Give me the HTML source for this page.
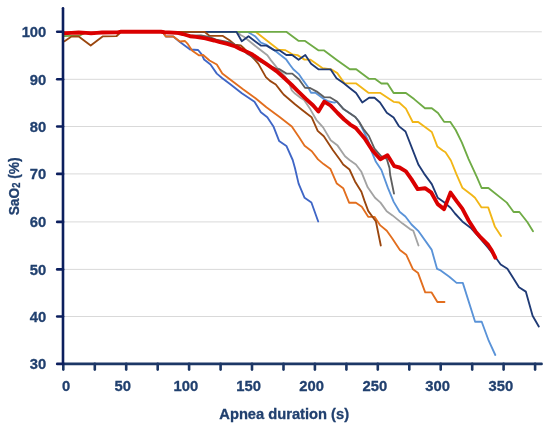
<!DOCTYPE html>
<html><head><meta charset="utf-8"><style>
html,body{margin:0;padding:0;background:#fff;}
body{width:550px;height:428px;overflow:hidden;position:relative;}
svg{position:absolute;left:0;top:0;}
.t{font-family:"Liberation Sans",Arial,sans-serif;font-weight:bold;fill:#21406F;stroke:#21406F;stroke-width:0.3px;}
</style></head><body>
<svg width="550" height="428" viewBox="0 0 550 428">
<rect width="550" height="428" fill="#fff"/>

<line x1="64" y1="31.8" x2="541.8" y2="31.8" stroke="#d9d9d9" stroke-width="1"/>
<line x1="64" y1="79.3" x2="541.8" y2="79.3" stroke="#d9d9d9" stroke-width="1"/>
<line x1="64" y1="126.5" x2="541.8" y2="126.5" stroke="#d9d9d9" stroke-width="1"/>
<line x1="64" y1="173.9" x2="541.8" y2="173.9" stroke="#d9d9d9" stroke-width="1"/>
<line x1="64" y1="221.9" x2="541.8" y2="221.9" stroke="#d9d9d9" stroke-width="1"/>
<line x1="64" y1="269.4" x2="541.8" y2="269.4" stroke="#d9d9d9" stroke-width="1"/>
<line x1="64" y1="316.5" x2="541.8" y2="316.5" stroke="#d9d9d9" stroke-width="1"/>
<path d="M64.0 33.0 L100.0 32.8 L121.0 31.8 L161.0 31.8 L163.3 33.0 L165.8 36.5 L173.3 36.5 L179.9 42.0 L190.1 49.5 L198.1 50.0 L201.7 54.4 L204.1 59.5 L210.5 64.5 L216.8 73.6 L222.3 78.2 L230.0 84.1 L241.8 93.2 L254.5 101.8 L260.9 112.3 L267.3 117.3 L273.6 126.8 L279.1 140.9 L286.4 145.9 L292.7 160.0 L295.0 168.2 L298.6 183.6 L304.6 197.8 L311.4 202.5 L318.2 221.5" fill="none" stroke="#3F66C6" stroke-width="1.85" stroke-linejoin="round" stroke-linecap="round"/>
<path d="M64.0 33.0 L100.0 32.8 L121.0 31.8 L161.0 31.8 L163.3 33.0 L165.8 36.5 L173.3 36.5 L179.9 41.5 L185.0 41.0 L187.9 44.2 L192.3 50.7 L198.8 55.3 L203.2 55.0 L209.5 60.5 L216.8 64.5 L222.3 73.6 L229.5 79.1 L242.7 89.1 L255.5 98.2 L266.4 107.3 L279.6 117.0 L291.8 126.4 L299.1 137.3 L304.6 145.8 L311.8 151.2 L318.0 159.4 L323.6 164.1 L330.5 169.1 L336.8 183.6 L343.2 188.2 L349.1 202.7 L355.9 202.7 L361.8 206.8 L368.2 216.8 L374.5 216.8 L380.3 225.4 L386.8 230.8 L392.3 238.5 L399.9 249.9 L406.2 254.7 L413.0 269.3 L418.1 273.1 L425.2 292.4 L431.6 292.4 L437.4 302.0 L444.5 302.0" fill="none" stroke="#E26E1E" stroke-width="1.85" stroke-linejoin="round" stroke-linecap="round"/>
<path d="M64.0 33.0 L100.0 32.8 L121.0 31.8 L237.0 31.8 L240.6 35.0 L243.9 36.8 L257.9 48.0 L267.4 55.3 L271.0 60.4 L276.5 67.1 L284.5 75.8 L288.9 82.4 L291.8 90.4 L295.0 93.6 L300.5 97.7 L304.1 100.0 L310.2 109.1 L316.3 119.8 L323.1 127.4 L330.7 140.3 L337.6 145.6 L345.0 156.2 L349.5 160.0 L355.9 164.5 L361.4 171.8 L367.7 187.3 L375.0 197.8 L380.5 202.6 L386.7 211.3 L392.5 215.4 L402.6 223.6 L410.0 229.1 L413.3 230.8 L418.5 245.5" fill="none" stroke="#A3A3A3" stroke-width="1.85" stroke-linejoin="round" stroke-linecap="round"/>
<path d="M64.0 33.0 L100.0 32.8 L121.0 31.8 L255.5 31.8 L256.5 32.5 L278.3 49.6 L285.5 50.2 L292.3 54.3 L297.5 55.1 L304.5 59.6 L310.2 59.6 L322.7 68.2 L331.5 69.5 L337.3 73.1 L344.5 83.4 L356.2 83.4 L368.4 92.8 L380.0 92.8 L393.6 101.8 L399.1 102.5 L405.9 108.6 L412.7 122.0 L418.2 122.0 L431.8 132.0 L437.3 146.4 L442.7 150.5 L445.5 152.3 L450.9 160.5 L456.4 174.1 L462.3 187.7 L471.8 195.0 L475.0 197.7 L481.5 207.4 L488.2 207.4 L494.8 226.4 L501.0 236.0" fill="none" stroke="#F2B616" stroke-width="1.85" stroke-linejoin="round" stroke-linecap="round"/>
<path d="M64.0 33.0 L100.0 32.8 L121.0 31.8 L247.5 31.8 L250.0 33.2 L255.0 36.2 L260.9 42.7 L265.9 44.5 L276.0 51.5 L286.3 59.6 L289.9 64.7 L293.3 69.3 L299.1 74.4 L303.5 80.9 L307.8 86.7 L311.0 92.7 L315.4 92.7 L324.5 99.4 L328.9 101.5 L334.5 102.6 L336.9 101.6 L343.1 108.7 L355.3 117.0 L359.1 121.9 L363.1 130.2 L367.9 140.0 L372.3 153.1 L375.9 161.8 L381.4 170.0 L387.9 187.9 L393.7 201.9 L399.6 211.8 L405.4 216.5 L411.5 224.5 L418.2 230.8 L431.6 249.6 L437.1 268.9 L440.0 270.1 L449.3 276.7 L456.6 282.9 L462.8 282.9 L475.1 321.7 L481.7 321.7 L488.7 340.7 L495.3 355.0" fill="none" stroke="#5A93D8" stroke-width="1.85" stroke-linejoin="round" stroke-linecap="round"/>
<path d="M64.0 36.2 L70.0 35.8 L79.5 35.8 L84.0 33.2 L100.0 32.9 L121.0 31.8 L286.3 31.8 L298.4 40.8 L304.7 40.8 L318.3 50.3 L323.8 50.3 L336.8 59.9 L349.8 69.2 L356.2 69.2 L369.2 78.9 L375.2 78.9 L381.4 83.5 L387.5 83.5 L393.6 93.0 L405.9 93.0 L414.1 99.1 L425.0 108.2 L431.8 108.2 L438.0 113.0 L444.1 121.8 L450.2 121.8 L455.7 130.0 L461.8 142.3 L468.6 159.1 L476.8 176.8 L481.6 188.0 L488.4 188.0 L506.8 202.6 L513.6 212.0 L519.4 212.0 L527.3 222.0 L533.0 231.3" fill="none" stroke="#6FAB45" stroke-width="1.85" stroke-linejoin="round" stroke-linecap="round"/>
<path d="M64.0 33.0 L100.0 32.8 L121.0 31.8 L204.6 31.8 L236.4 31.8 L241.8 41.3 L248.5 36.3 L255.0 41.3 L260.8 45.6 L266.6 45.6 L274.6 50.4 L279.7 50.4 L286.3 55.0 L292.2 55.0 L298.6 59.8 L305.3 55.1 L311.1 63.8 L318.4 69.3 L330.5 69.3 L336.5 78.2 L343.8 83.3 L350.0 88.2 L356.1 93.0 L362.3 102.5 L369.1 97.7 L374.5 97.7 L380.0 102.5 L386.8 112.7 L393.6 117.5 L399.1 126.4 L405.5 131.5 L418.5 164.8 L424.1 173.6 L431.8 184.1 L437.7 197.7 L444.1 202.3 L450.5 207.7 L455.0 213.5 L462.3 221.4 L470.5 227.7 L478.0 236.0 L488.2 248.0 L495.8 257.7 L500.7 264.5 L507.4 268.8 L513.2 278.1 L519.0 287.2 L525.8 291.6 L532.6 315.8 L538.8 326.5" fill="none" stroke="#1F3A75" stroke-width="1.85" stroke-linejoin="round" stroke-linecap="round"/>
<path d="M64.5 41.3 L71.5 36.5 L78.7 36.5 L90.7 45.6 L102.6 36.4 L116.4 36.2 L120.4 32.5 L121.5 31.8 L204.5 31.8 L209.7 35.9 L222.9 35.9 L229.5 40.3 L235.0 44.7 L240.8 45.5 L243.8 48.2 L255.4 60.4 L258.4 63.9 L265.9 77.1 L270.0 80.9 L275.8 84.5 L280.9 91.1 L283.6 94.5 L295.0 104.3 L302.2 110.0 L311.6 117.2 L317.7 130.9 L323.8 136.3 L333.0 150.2 L340.5 160.5 L343.2 164.5 L349.5 169.5 L355.0 181.4 L361.4 191.8 L364.5 200.9 L368.2 210.9 L373.2 217.8 L375.9 221.5 L380.8 245.5" fill="none" stroke="#9A460E" stroke-width="1.85" stroke-linejoin="round" stroke-linecap="round"/>
<path d="M64.0 33.0 L100.0 32.8 L121.0 31.8 L160.0 31.8 L176.0 33.3 L190.0 35.6 L200.9 35.3 L209.0 36.9 L216.2 39.6 L225.0 41.3 L230.9 42.7 L238.2 46.5 L246.7 53.4 L252.5 56.9 L256.0 59.3 L265.0 64.0 L276.5 68.9 L279.6 69.2 L286.5 73.6 L292.3 73.6 L299.1 79.5 L305.0 87.8 L310.1 88.0 L316.8 91.6 L324.0 97.1 L329.9 97.3 L336.9 101.5 L343.1 108.7 L355.3 117.0 L359.1 121.8 L363.5 129.1 L368.9 136.0 L374.5 148.7 L381.0 156.0 L386.8 158.9 L389.5 168.0 L390.2 175.0 L394.0 193.6" fill="none" stroke="#5F5F5F" stroke-width="1.85" stroke-linejoin="round" stroke-linecap="round"/>
<path d="M64.0 33.2 L71.5 32.9 L78.7 32.5 L86.0 32.9 L91.1 33.3 L96.9 32.9 L102.0 32.5 L117.5 32.4 L121.1 31.7 L160.9 31.7 L164.5 32.2 L177.6 32.9 L182.7 34.0 L190.0 36.2 L195.9 36.9 L205.4 38.4 L214.1 40.5 L220.0 42.2 L227.3 43.8 L235.5 46.5 L240.8 49.3 L246.7 51.7 L252.5 54.6 L258.4 58.7 L265.5 63.3 L276.8 71.3 L284.5 78.2 L291.8 85.0 L297.6 90.8 L305.9 98.9 L313.2 105.5 L318.4 111.5 L324.2 101.7 L330.4 105.4 L337.6 113.0 L344.2 119.5 L350.2 124.6 L355.8 128.0 L364.5 138.2 L372.3 150.2 L380.3 159.3 L387.5 155.3 L394.3 166.2 L399.5 167.5 L405.9 171.4 L411.4 179.1 L417.7 189.1 L425.0 188.2 L431.4 192.7 L437.7 204.1 L444.1 209.1 L450.5 192.6 L456.8 201.4 L462.3 208.6 L468.6 220.5 L475.5 231.4 L480.9 237.7 L488.2 245.0 L491.8 250.5 L495.3 257.6" fill="none" stroke="#DA0000" stroke-width="3.9" stroke-linejoin="round" stroke-linecap="round"/>
<g stroke="#1c3766" stroke-width="2.6" stroke-linecap="round" fill="none">
<line x1="63" y1="363.9" x2="541.6" y2="363.9"/>
<line x1="63.3" y1="363.9" x2="63.3" y2="369.6"/>
<line x1="94.8" y1="363.9" x2="94.8" y2="369.6"/>
<line x1="126.2" y1="363.9" x2="126.2" y2="369.6"/>
<line x1="157.7" y1="363.9" x2="157.7" y2="369.6"/>
<line x1="189.1" y1="363.9" x2="189.1" y2="369.6"/>
<line x1="220.6" y1="363.9" x2="220.6" y2="369.6"/>
<line x1="252.0" y1="363.9" x2="252.0" y2="369.6"/>
<line x1="283.5" y1="363.9" x2="283.5" y2="369.6"/>
<line x1="314.9" y1="363.9" x2="314.9" y2="369.6"/>
<line x1="346.4" y1="363.9" x2="346.4" y2="369.6"/>
<line x1="377.8" y1="363.9" x2="377.8" y2="369.6"/>
<line x1="409.3" y1="363.9" x2="409.3" y2="369.6"/>
<line x1="440.7" y1="363.9" x2="440.7" y2="369.6"/>
<line x1="472.2" y1="363.9" x2="472.2" y2="369.6"/>
<line x1="503.6" y1="363.9" x2="503.6" y2="369.6"/>
<line x1="535.1" y1="363.9" x2="535.1" y2="369.6"/>
</g>
<g stroke="#0c1f5e" stroke-width="2.6" stroke-linecap="round" fill="none">
<line x1="63" y1="8.2" x2="63" y2="363.9"/>
<line x1="57.2" y1="31.8" x2="63" y2="31.8"/>
<line x1="57.2" y1="79.3" x2="63" y2="79.3"/>
<line x1="57.2" y1="126.5" x2="63" y2="126.5"/>
<line x1="57.2" y1="173.9" x2="63" y2="173.9"/>
<line x1="57.2" y1="221.9" x2="63" y2="221.9"/>
<line x1="57.2" y1="269.4" x2="63" y2="269.4"/>
<line x1="57.2" y1="316.5" x2="63" y2="316.5"/>
<line x1="57.2" y1="363.9" x2="63" y2="363.9"/>
</g>
<text class="t" transform="translate(46.3,37.0) scale(1,1.04)" font-size="14.8" text-anchor="end">100</text>
<text class="t" transform="translate(46.3,84.5) scale(1,1.04)" font-size="14.8" text-anchor="end">90</text>
<text class="t" transform="translate(46.3,131.7) scale(1,1.04)" font-size="14.8" text-anchor="end">80</text>
<text class="t" transform="translate(46.3,179.1) scale(1,1.04)" font-size="14.8" text-anchor="end">70</text>
<text class="t" transform="translate(46.3,227.1) scale(1,1.04)" font-size="14.8" text-anchor="end">60</text>
<text class="t" transform="translate(46.3,274.6) scale(1,1.04)" font-size="14.8" text-anchor="end">50</text>
<text class="t" transform="translate(46.3,321.7) scale(1,1.04)" font-size="14.8" text-anchor="end">40</text>
<text class="t" transform="translate(46.3,369.1) scale(1,1.04)" font-size="14.8" text-anchor="end">30</text>
<text class="t" transform="translate(66.1,390.5) scale(1,1.04)" font-size="14.8" text-anchor="middle">0</text>
<text class="t" transform="translate(122.7,390.5) scale(1,1.04)" font-size="14.8" text-anchor="middle">50</text>
<text class="t" transform="translate(185.8,390.5) scale(1,1.04)" font-size="14.8" text-anchor="middle">100</text>
<text class="t" transform="translate(248.6,390.5) scale(1,1.04)" font-size="14.8" text-anchor="middle">150</text>
<text class="t" transform="translate(311.6,390.5) scale(1,1.04)" font-size="14.8" text-anchor="middle">200</text>
<text class="t" transform="translate(374.8,390.5) scale(1,1.04)" font-size="14.8" text-anchor="middle">250</text>
<text class="t" transform="translate(437.7,390.5) scale(1,1.04)" font-size="14.8" text-anchor="middle">300</text>
<text class="t" transform="translate(500.9,390.5) scale(1,1.04)" font-size="14.8" text-anchor="middle">350</text>
<text class="t" transform="translate(284.2,418.9) scale(1,1.04)" font-size="14.7" text-anchor="middle">Apnea duration (s)</text>
<text class="t" transform="translate(19.3,186.4) rotate(-90) scale(0.93,1.04)" font-size="14.8" text-anchor="middle">SaO<tspan font-size="10" dy="1">2</tspan><tspan dy="-1"> (%)</tspan></text>
</svg></body></html>
